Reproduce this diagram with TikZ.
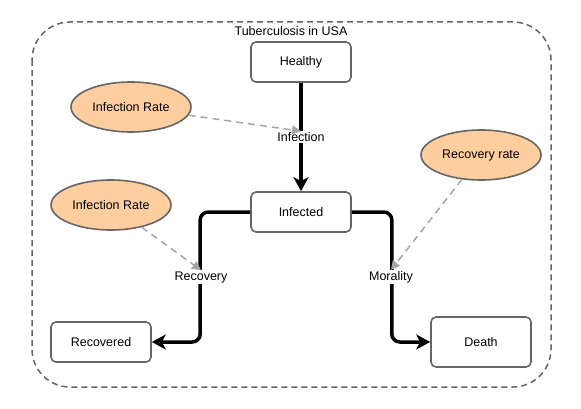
\documentclass[tikz,border=0pt]{standalone}
\usepackage{fontspec}
\setmainfont{Liberation Sans}
\usetikzlibrary{arrows.meta,shapes.geometric,positioning}
\definecolor{peach}{HTML}{FFCE9F}
\definecolor{linegray}{HTML}{666666}
\definecolor{paramgray}{HTML}{A6A6A6}

\begin{document}
\begin{tikzpicture}[x=1pt,y=-1pt]
	\tikzset{every node/.style={font=\fontsize{12.5}{15}\selectfont}}
	\tikzset{state/.style={draw=linegray,line width=1.6pt,rounded corners=5pt,fill=white,minimum width=100pt,minimum height=40pt}}
	\tikzset{rate/.style={ellipse,draw=linegray,line width=1.6pt,fill=peach,minimum width=120pt,minimum height=50pt,inner sep=0pt}}
	\tikzset{flow/.style={line width=3.5pt,rounded corners=8pt,-{Stealth[length=14pt,width=15pt,inset=4pt]}}}
	\tikzset{flowlabel/.style={fill=white,inner sep=1pt}}
	\tikzset{param/.style={paramgray,line width=1.5pt,dash pattern=on 7pt off 5pt,-{Triangle[length=9pt,width=9pt]}}}
	\useasboundingbox (0,0) rectangle (581,409);
	\draw[linegray,line width=1.5pt,dash pattern=on 6pt off 4pt,rounded corners=38pt] (32,22) rectangle (551,387);
	\node (title) at (291,31) {Tuberculosis in USA};
	\node[state] (healthy) at (301,62) {Healthy};
	\node[state] (infected) at (301,212) {Infected};
	\node[state] (recovered) at (101,342) {Recovered};
	\node[state,minimum height=50pt] (death) at (481,342) {Death};
	\node[rate] (infrate) at (131,107) {Infection Rate};
	\node[rate] (infrate2) at (111,205) {Infection Rate};
	\node[rate] (recrate) at (481,155) {Recovery rate};
	\draw[flow] (healthy) -- (infected);
	\draw[flow] (infected.west) -- ++(-50,0) |- (recovered.east);
	\draw[flow] (infected.east) -- ++(40,0) |- (death.west);
	\node[flowlabel] (infection) at (301,137) {Infection};
	\node[flowlabel] (recovery) at (201,277) {Recovery};
	\node[flowlabel] (morality) at (391,277) {Morality};
	\draw[param] (infrate) -- (infection.north);
	\draw[param] (infrate2) -- (recovery.north);
	\draw[param] (recrate) -- (morality.north);
\end{tikzpicture}
\end{document}
